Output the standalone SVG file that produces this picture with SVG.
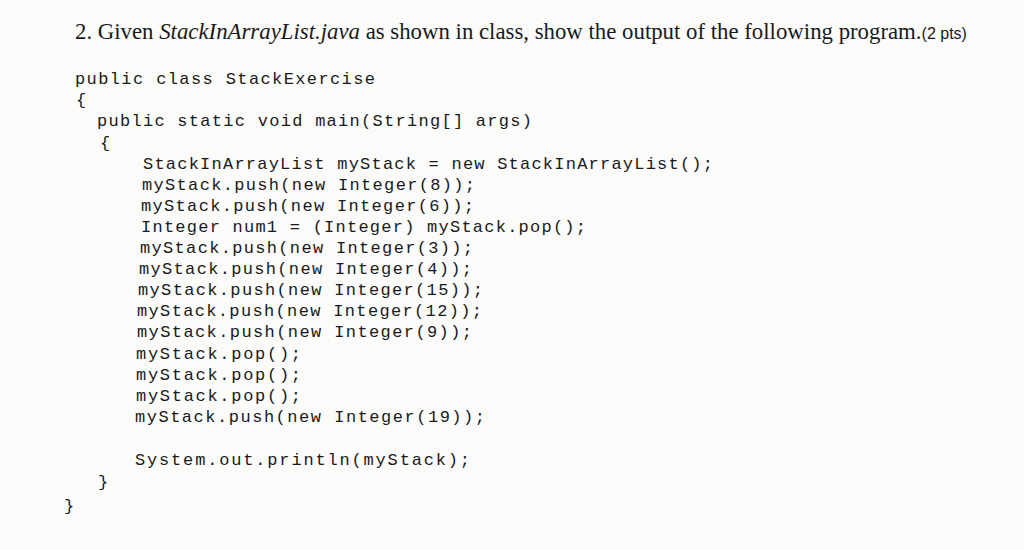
<svg xmlns="http://www.w3.org/2000/svg" width="1024" height="550" viewBox="0 0 1024 550">
<style>
.t{font-family:"Liberation Serif",serif;font-size:22.8px;fill:#1a1a1a}
.s{font-family:"Liberation Sans",sans-serif;font-size:16px;fill:#1a1a1a}
.c{font-family:"Liberation Mono",monospace;font-size:17px;fill:#1a1a1a}
</style>
<rect width="1024" height="550" fill="#fbfbfa"/>
<g id="title">
<text x="75" y="39" class="t">2. Given <tspan font-style="italic">StackInArrayList.java</tspan> as shown in class, show the output of the following program.<tspan class="s">(2 pts)</tspan></text>
</g>
<g id="code" class="c">
<text x="75" y="84" textLength="300">public class StackExercise</text>
<text x="76" y="105">{</text>
<text x="97" y="126" textLength="435">public static void main(String[] args)</text>
<text x="100" y="148">{</text>
<text x="143" y="169" textLength="570">StackInArrayList myStack = new StackInArrayList();</text>
<text x="142" y="190" textLength="333">myStack.push(new Integer(8));</text>
<text x="141" y="211" textLength="333">myStack.push(new Integer(6));</text>
<text x="141" y="232" textLength="445">Integer num1 = (Integer) myStack.pop();</text>
<text x="140" y="253" textLength="333">myStack.push(new Integer(3));</text>
<text x="139" y="274" textLength="333">myStack.push(new Integer(4));</text>
<text x="138" y="295" textLength="345">myStack.push(new Integer(15));</text>
<text x="137" y="316" textLength="345">myStack.push(new Integer(12));</text>
<text x="137" y="337" textLength="335">myStack.push(new Integer(9));</text>
<text x="136" y="359" textLength="165">myStack.pop();</text>
<text x="136" y="380" textLength="165">myStack.pop();</text>
<text x="136" y="401" textLength="165">myStack.pop();</text>
<text x="135" y="422" textLength="350">myStack.push(new Integer(19));</text>
<text x="135" y="465" textLength="335">System.out.println(myStack);</text>
<text x="98" y="487">}</text>
<text x="64" y="511">}</text>
</g>
</svg>
